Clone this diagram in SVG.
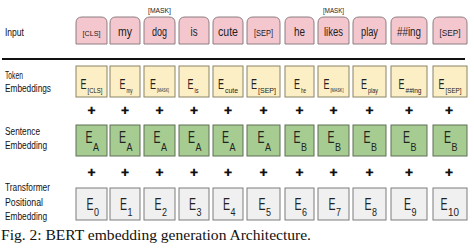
<svg xmlns="http://www.w3.org/2000/svg" width="474" height="249" viewBox="0 0 474 249">
<style>
text{font-family:"Liberation Sans",Arial,sans-serif;fill:#222}
.lbl{font-size:10px;fill:#111}
.inp{fill:#f4c7ce;stroke:#8e7c82;stroke-width:1}
.tok{fill:#fcefc5;stroke:#8a8466;stroke-width:1}
.sen{fill:#a6cc92;stroke:#5e6f57;stroke-width:1}
.pos{fill:#f0f0f0;stroke:#7c7c7c;stroke-width:1}
.w{font-size:12px;text-anchor:middle}
.sm{font-size:8px;text-anchor:middle}
.mask{font-size:7px;text-anchor:middle}
.te{font-size:15px}
.ts{font-size:8px}
.tss{font-size:6px}
.be{font-size:17px}
.bs{font-size:11px}
.plus{font-family:"DejaVu Sans",sans-serif;font-size:10px;text-anchor:middle;fill:#111}
.cap{font-family:"Liberation Serif","Times New Roman",serif;font-size:14.5px;fill:#111}
</style>
<g id="labels">
<text class="lbl" x="5" y="36" textLength="19" lengthAdjust="spacingAndGlyphs">Input</text>
<text class="lbl" x="5" y="79" textLength="18" lengthAdjust="spacingAndGlyphs">Token</text>
<text class="lbl" x="5" y="92" textLength="46" lengthAdjust="spacingAndGlyphs">Embeddings</text>
<text class="lbl" x="5" y="135" textLength="35" lengthAdjust="spacingAndGlyphs">Sentence</text>
<text class="lbl" x="5" y="149" textLength="42" lengthAdjust="spacingAndGlyphs">Embedding</text>
<text class="lbl" x="5" y="191" textLength="45" lengthAdjust="spacingAndGlyphs">Transformer</text>
<text class="lbl" x="5" y="206" textLength="38" lengthAdjust="spacingAndGlyphs">Positional</text>
<text class="lbl" x="5" y="220" textLength="42" lengthAdjust="spacingAndGlyphs">Embedding</text>
</g>
<g id="connectors">
<line x1="2" y1="59" x2="465" y2="59" stroke="#111" stroke-width="2"/>
<g id="plus-row1">
<text class="plus" x="91.5" y="114">✚</text><text class="plus" x="125" y="114">✚</text><text class="plus" x="159.5" y="114">✚</text><text class="plus" x="194" y="114">✚</text><text class="plus" x="228" y="114">✚</text><text class="plus" x="263.5" y="114">✚</text><text class="plus" x="299.5" y="114">✚</text><text class="plus" x="333.5" y="114">✚</text><text class="plus" x="369.5" y="114">✚</text><text class="plus" x="409" y="114">✚</text><text class="plus" x="449" y="114">✚</text>
</g>
<g id="plus-row2">
<text class="plus" x="91.5" y="176">✚</text><text class="plus" x="125" y="176">✚</text><text class="plus" x="159.5" y="176">✚</text><text class="plus" x="194" y="176">✚</text><text class="plus" x="228" y="176">✚</text><text class="plus" x="263.5" y="176">✚</text><text class="plus" x="299.5" y="176">✚</text><text class="plus" x="333.5" y="176">✚</text><text class="plus" x="369.5" y="176">✚</text><text class="plus" x="409" y="176">✚</text><text class="plus" x="449" y="176">✚</text>
</g>
</g>
<g id="input-row">
<g id="in-cls"><path class="inp" d="M76,44V23Q76,17 82,17H101Q107,17 107,23V44Z"/><text class="sm" x="91.5" y="36" textLength="18" lengthAdjust="spacingAndGlyphs">[CLS]</text></g>
<g id="in-my"><path class="inp" d="M110,44V23Q110,17 116,17H134Q140,17 140,23V44Z"/><text class="w" x="125" y="36" textLength="14" lengthAdjust="spacingAndGlyphs">my</text></g>
<g id="in-dog"><path class="inp" d="M144,44V23Q144,17 150,17H169Q175,17 175,23V44Z"/><text class="w" x="159.5" y="36" textLength="15" lengthAdjust="spacingAndGlyphs">dog</text><text class="mask" x="159.5" y="13" textLength="23" lengthAdjust="spacingAndGlyphs">[MASK]</text></g>
<g id="in-is"><path class="inp" d="M179,44V23Q179,17 185,17H203Q209,17 209,23V44Z"/><text class="w" x="194" y="36" textLength="7" lengthAdjust="spacingAndGlyphs">is</text></g>
<g id="in-cute"><path class="inp" d="M213,44V23Q213,17 219,17H237Q243,17 243,23V44Z"/><text class="w" x="228" y="36" textLength="20" lengthAdjust="spacingAndGlyphs">cute</text></g>
<g id="in-sep1"><path class="inp" d="M247,44V23Q247,17 253,17H274Q280,17 280,23V44Z"/><text class="sm" x="263.5" y="36" style="font-size:9px" textLength="19" lengthAdjust="spacingAndGlyphs">[SEP]</text></g>
<g id="in-he"><path class="inp" d="M285,44V23Q285,17 291,17H308Q314,17 314,23V44Z"/><text class="w" x="299.5" y="36" textLength="11" lengthAdjust="spacingAndGlyphs">he</text></g>
<g id="in-likes"><path class="inp" d="M318,44V23Q318,17 324,17H343Q349,17 349,23V44Z"/><text class="w" x="333.5" y="36" textLength="19" lengthAdjust="spacingAndGlyphs">likes</text><text class="mask" x="333.5" y="13" textLength="21" lengthAdjust="spacingAndGlyphs">[MASK]</text></g>
<g id="in-play"><path class="inp" d="M353,44V23Q353,17 359,17H380Q386,17 386,23V44Z"/><text class="w" x="369.5" y="36" textLength="17" lengthAdjust="spacingAndGlyphs">play</text></g>
<g id="in-ing"><path class="inp" d="M391,44V23Q391,17 397,17H421Q427,17 427,23V44Z"/><text class="w" x="409" y="36" textLength="24" lengthAdjust="spacingAndGlyphs">##ing</text></g>
<g id="in-sep2"><path class="inp" d="M433,44V23Q433,17 439,17H461Q467,17 467,23V44Z"/><text class="sm" x="450" y="36" style="font-size:9px" textLength="21" lengthAdjust="spacingAndGlyphs">[SEP]</text></g>
</g>
<g id="token-row">
<g id="tok-cls"><rect class="tok" x="76" y="66" width="31" height="31"/><text class="te" transform="translate(80.5,89) scale(0.6,1)">E</text><text class="ts" x="87.5" y="93" textLength="15" lengthAdjust="spacingAndGlyphs">[CLS]</text></g>
<g id="tok-my"><rect class="tok" x="110" y="66" width="30" height="31"/><text class="te" transform="translate(119.5,89) scale(0.6,1)">E</text><text class="ts" x="126.5" y="93" textLength="6" lengthAdjust="spacingAndGlyphs">my</text></g>
<g id="tok-mask1"><rect class="tok" x="144" y="66" width="31" height="31"/><text class="te" transform="translate(150,89) scale(0.6,1)">E</text><text class="tss" x="157" y="92" textLength="12" lengthAdjust="spacingAndGlyphs">[MASK]</text></g>
<g id="tok-is"><rect class="tok" x="179" y="66" width="30" height="31"/><text class="te" transform="translate(187.5,89) scale(0.6,1)">E</text><text class="ts" x="194.5" y="93" textLength="4" lengthAdjust="spacingAndGlyphs">is</text></g>
<g id="tok-cute"><rect class="tok" x="213" y="66" width="30" height="31"/><text class="te" transform="translate(218,89) scale(0.6,1)">E</text><text class="ts" x="225" y="93" textLength="13" lengthAdjust="spacingAndGlyphs">cute</text></g>
<g id="tok-sep1"><rect class="tok" x="247" y="66" width="33" height="31"/><text class="te" transform="translate(251,89) scale(0.6,1)">E</text><text class="ts" x="258" y="93" textLength="18" lengthAdjust="spacingAndGlyphs">[SEP]</text></g>
<g id="tok-he"><rect class="tok" x="285" y="66" width="29" height="31"/><text class="te" transform="translate(294,89) scale(0.6,1)">E</text><text class="ts" x="301" y="93" textLength="5" lengthAdjust="spacingAndGlyphs">he</text></g>
<g id="tok-mask2"><rect class="tok" x="318" y="66" width="31" height="31"/><text class="te" transform="translate(323.5,89) scale(0.6,1)">E</text><text class="tss" x="330.5" y="92" textLength="13" lengthAdjust="spacingAndGlyphs">[MASK]</text></g>
<g id="tok-play"><rect class="tok" x="353" y="66" width="33" height="31"/><text class="te" transform="translate(361,89) scale(0.6,1)">E</text><text class="ts" x="368" y="93" textLength="10" lengthAdjust="spacingAndGlyphs">play</text></g>
<g id="tok-ing"><rect class="tok" x="391" y="66" width="36" height="31"/><text class="te" transform="translate(398.5,89) scale(0.6,1)">E</text><text class="ts" x="405.5" y="93" textLength="16" lengthAdjust="spacingAndGlyphs">##ing</text></g>
<g id="tok-sep2"><rect class="tok" x="433" y="66" width="34" height="31"/><text class="te" transform="translate(438.5,89) scale(0.6,1)">E</text><text class="ts" x="445.5" y="93" textLength="16" lengthAdjust="spacingAndGlyphs">[SEP]</text></g>
</g>
<g id="sentence-row">
<g id="sen-1"><rect class="sen" x="76" y="125" width="31" height="31"/><text class="be" transform="translate(85.5,143) scale(0.62,1)">E</text><text class="bs" x="93" y="151" textLength="6" lengthAdjust="spacingAndGlyphs">A</text></g>
<g id="sen-2"><rect class="sen" x="110" y="125" width="30" height="31"/><text class="be" transform="translate(119,143) scale(0.62,1)">E</text><text class="bs" x="126.5" y="151" textLength="6" lengthAdjust="spacingAndGlyphs">A</text></g>
<g id="sen-3"><rect class="sen" x="144" y="125" width="31" height="31"/><text class="be" transform="translate(153.5,143) scale(0.62,1)">E</text><text class="bs" x="161" y="151" textLength="6" lengthAdjust="spacingAndGlyphs">A</text></g>
<g id="sen-4"><rect class="sen" x="179" y="125" width="30" height="31"/><text class="be" transform="translate(188,143) scale(0.62,1)">E</text><text class="bs" x="195.5" y="151" textLength="6" lengthAdjust="spacingAndGlyphs">A</text></g>
<g id="sen-5"><rect class="sen" x="213" y="125" width="30" height="31"/><text class="be" transform="translate(222,143) scale(0.62,1)">E</text><text class="bs" x="229.5" y="151" textLength="6" lengthAdjust="spacingAndGlyphs">A</text></g>
<g id="sen-6"><rect class="sen" x="247" y="125" width="33" height="31"/><text class="be" transform="translate(257.5,143) scale(0.62,1)">E</text><text class="bs" x="265" y="151" textLength="6" lengthAdjust="spacingAndGlyphs">A</text></g>
<g id="sen-7"><rect class="sen" x="285" y="125" width="29" height="31"/><text class="be" transform="translate(293.5,143) scale(0.62,1)">E</text><text class="bs" x="301" y="151" textLength="6" lengthAdjust="spacingAndGlyphs">B</text></g>
<g id="sen-8"><rect class="sen" x="318" y="125" width="31" height="31"/><text class="be" transform="translate(327.5,143) scale(0.62,1)">E</text><text class="bs" x="335" y="151" textLength="6" lengthAdjust="spacingAndGlyphs">B</text></g>
<g id="sen-9"><rect class="sen" x="353" y="125" width="33" height="31"/><text class="be" transform="translate(363.5,143) scale(0.62,1)">E</text><text class="bs" x="371" y="151" textLength="6" lengthAdjust="spacingAndGlyphs">B</text></g>
<g id="sen-10"><rect class="sen" x="391" y="125" width="36" height="31"/><text class="be" transform="translate(403,143) scale(0.62,1)">E</text><text class="bs" x="410.5" y="151" textLength="6" lengthAdjust="spacingAndGlyphs">B</text></g>
<g id="sen-11"><rect class="sen" x="433" y="125" width="34" height="31"/><text class="be" transform="translate(444,143) scale(0.62,1)">E</text><text class="bs" x="451.5" y="151" textLength="6" lengthAdjust="spacingAndGlyphs">B</text></g>
</g>
<g id="position-row">
<g id="pos-0"><rect class="pos" x="76" y="188" width="31" height="32"/><text class="be" transform="translate(86.5,210) scale(0.62,1)">E</text><text class="bs" x="94" y="216" textLength="5" lengthAdjust="spacingAndGlyphs">0</text></g>
<g id="pos-1"><rect class="pos" x="110" y="188" width="30" height="32"/><text class="be" transform="translate(120,210) scale(0.62,1)">E</text><text class="bs" x="127.5" y="216" textLength="5" lengthAdjust="spacingAndGlyphs">1</text></g>
<g id="pos-2"><rect class="pos" x="144" y="188" width="31" height="32"/><text class="be" transform="translate(154.5,210) scale(0.62,1)">E</text><text class="bs" x="162" y="216" textLength="5" lengthAdjust="spacingAndGlyphs">2</text></g>
<g id="pos-3"><rect class="pos" x="179" y="188" width="30" height="32"/><text class="be" transform="translate(189,210) scale(0.62,1)">E</text><text class="bs" x="196.5" y="216" textLength="5" lengthAdjust="spacingAndGlyphs">3</text></g>
<g id="pos-4"><rect class="pos" x="213" y="188" width="30" height="32"/><text class="be" transform="translate(223,210) scale(0.62,1)">E</text><text class="bs" x="230.5" y="216" textLength="5" lengthAdjust="spacingAndGlyphs">4</text></g>
<g id="pos-5"><rect class="pos" x="247" y="188" width="33" height="32"/><text class="be" transform="translate(258.5,210) scale(0.62,1)">E</text><text class="bs" x="266" y="216" textLength="5" lengthAdjust="spacingAndGlyphs">5</text></g>
<g id="pos-6"><rect class="pos" x="285" y="188" width="29" height="32"/><text class="be" transform="translate(294.5,210) scale(0.62,1)">E</text><text class="bs" x="302" y="216" textLength="5" lengthAdjust="spacingAndGlyphs">6</text></g>
<g id="pos-7"><rect class="pos" x="318" y="188" width="31" height="32"/><text class="be" transform="translate(328.5,210) scale(0.62,1)">E</text><text class="bs" x="336" y="216" textLength="5" lengthAdjust="spacingAndGlyphs">7</text></g>
<g id="pos-8"><rect class="pos" x="353" y="188" width="33" height="32"/><text class="be" transform="translate(364.5,210) scale(0.62,1)">E</text><text class="bs" x="372" y="216" textLength="5" lengthAdjust="spacingAndGlyphs">8</text></g>
<g id="pos-9"><rect class="pos" x="391" y="188" width="36" height="32"/><text class="be" transform="translate(404,210) scale(0.62,1)">E</text><text class="bs" x="411.5" y="216" textLength="5" lengthAdjust="spacingAndGlyphs">9</text></g>
<g id="pos-10"><rect class="pos" x="433" y="188" width="34" height="32"/><text class="be" transform="translate(440.5,210) scale(0.62,1)">E</text><text class="bs" x="448" y="216" textLength="11" lengthAdjust="spacingAndGlyphs">10</text></g>
</g>
<text id="caption" class="cap" x="1" y="240" textLength="310" lengthAdjust="spacingAndGlyphs">Fig. 2: BERT embedding generation Architecture.</text>
</svg>
